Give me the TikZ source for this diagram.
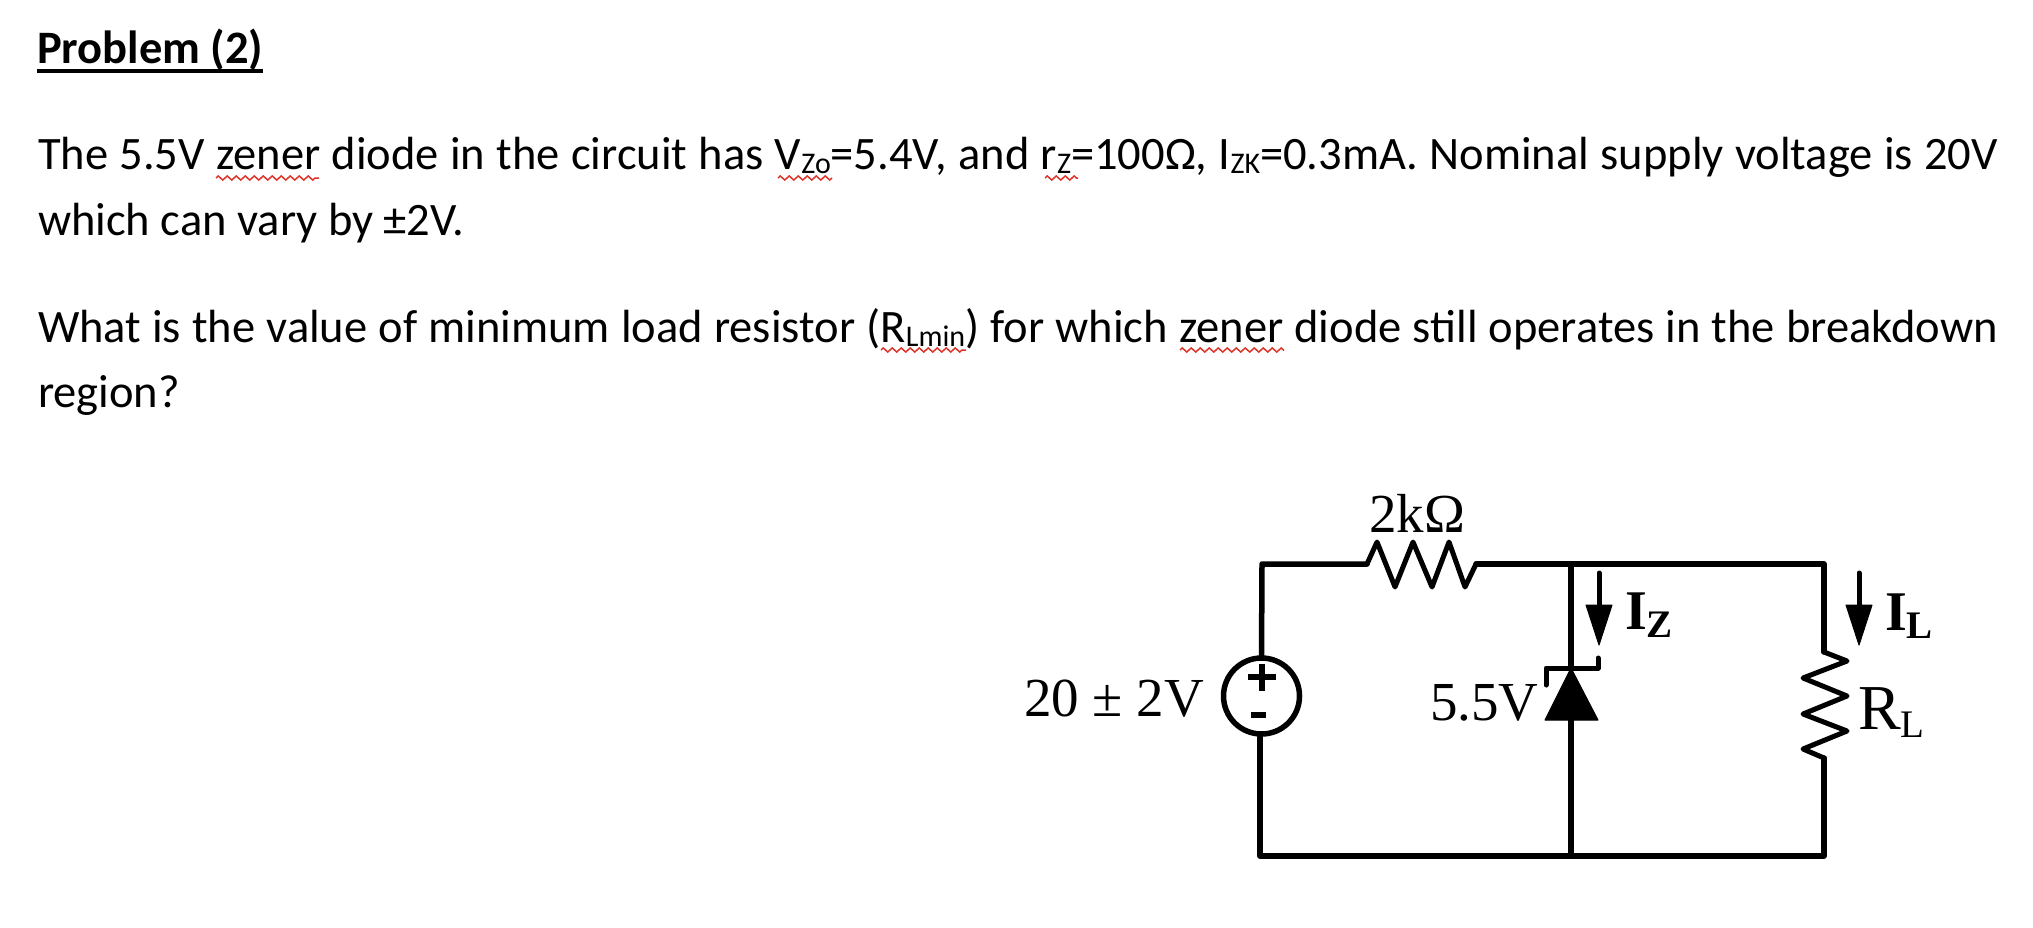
\documentclass[tikz,border=0pt]{standalone}
\usepackage{fontspec}
\usetikzlibrary{decorations.pathmorphing}
\setmainfont{Carlito}
\newfontfamily\serifcirc{Liberation Serif}
\definecolor{spell}{RGB}{222,50,40}
\newcommand{\bodysize}{\fontsize{46.5}{50}\selectfont}
\newcommand{\sbs}[1]{\raisebox{-0.1em}{\fontsize{30}{32}\selectfont #1}}
\newcommand{\csub}[1]{\raisebox{-8.5pt}{\fontsize{39}{42}\selectfont #1}}
\tikzset{
  x=1pt,y=-1pt,
  bodyline/.style={anchor=base west,inner sep=0pt,outer sep=0pt,font=\bodysize},
  wire/.style={line width=5.5pt,line cap=round,line join=round,black},
  thinpart/.style={line width=5pt,line cap=round,line join=round,black},
  squig/.style={draw=spell,line width=1.5pt,decorate,decoration={zigzag,amplitude=2pt,segment length=9pt}},
  clabel/.style={inner sep=0pt,outer sep=0pt,anchor=base west,font=\serifcirc\fontsize{55}{60}\selectfont},
  cbold/.style={inner sep=0pt,outer sep=0pt,anchor=base west,font=\serifcirc\bfseries\fontsize{56}{60}\selectfont},
  headfill/.style={fill=black,draw=black,line width=1pt,line join=round},
  solidmark/.style={inner sep=0pt,outer sep=0pt,fill=black},
}
\begin{document}
\begin{tikzpicture}
\useasboundingbox (0,0) rectangle (2033,927);
\fill[white] (0,0) rectangle (2033,927);
% text
\node[bodyline,font=\bfseries\bodysize] (title) at (37,63) {Problem (2)};
\coordinate (ula) at (37,71); \coordinate (ulb) at (263,71);
\draw[line width=3.2pt] (ula) -- (ulb);
\node[bodyline] (l1) at (38,169) {\makebox[1960pt][s]{The 5.5V zener diode in the circuit has V\sbs{Zo}=5.4V, and r\sbs{Z}=100Ω, I\sbs{ZK}=0.3mA. Nominal supply voltage is 20V}};
\node[bodyline] (l2) at (38,235) {which can vary by ±2V.};
\node[bodyline] (l3) at (38,342) {\makebox[1960pt][s]{What is the value of minimum load resistor (R\sbs{Lmin}) for which zener diode still operates in the breakdown}};
\node[bodyline] (l4) at (38,407) {region?};
\foreach \n/\a/\b/\y in {s1/216/319/178,s2/778/832/178,s3/1045/1078/178,s4/881/966/350,s5/1180/1284/350}{
  \coordinate (\n a) at (\a,\y); \coordinate (\n b) at (\b,\y);
  \draw[squig] (\n a) -- (\n b);
}
% circuit nodes
\coordinate (tl) at (1262,564);
\coordinate (tm) at (1571,564);
\coordinate (tr) at (1824,564);
\coordinate (bl) at (1260,856);
\coordinate (bm) at (1571,856);
\coordinate (br) at (1824,856);
\node[circle,draw=black,line width=5.5pt,minimum size=76pt,inner sep=0pt] (src) at (1261.5,696) {};
\coordinate (srcb) at (1260,737);
\coordinate (r1a) at (1367,564); \coordinate (r1b) at (1476,564);
\coordinate (r2a) at (1824,652); \coordinate (r2b) at (1824,758);
\coordinate (zk) at (1571,668); \coordinate (za) at (1571,720);
% wires
\draw[wire] (src.north) -- (tl) -- (r1a);
\draw[thinpart] (r1a) -- (1377,542) -- (1395,587) -- (1413,542) -- (1432,587) -- (1449,542) -- (1465,587) -- (r1b);
\draw[wire] (r1b) -- (tm) -- (tr) -- (r2a);
\draw[thinpart] (r2a) -- (1847,661) -- (1803,678) -- (1847,696) -- (1803,714) -- (1847,731) -- (1803,749) -- (r2b);
\draw[wire] (r2b) -- (br) -- (bl) -- (srcb);
\draw[wire] (tm) -- (zk);
\draw[wire] (za) -- (bm);
% zener
\fill[headfill] (zk) -- (1598,720) -- (1545,720) -- cycle;
\draw[thinpart] (1546,685) -- (1546,668) -- (1598,668) -- (1598,658);
% polarity
\node[solidmark,minimum width=28pt,minimum height=6pt] (plush) at (1262,677) {};
\node[solidmark,minimum width=6pt,minimum height=27pt] (plusv) at (1262,677) {};
\node[solidmark,minimum width=15pt,minimum height=6pt] (minus) at (1258,715) {};
% current arrows
\coordinate (iz1) at (1599,573); \coordinate (iz2) at (1599,605);
\coordinate (il1) at (1859,573); \coordinate (il2) at (1859,605);
\draw[thinpart] (iz1) -- (iz2);
\fill[headfill] (1586,605) -- (1612,605) -- (1599,645) -- cycle;
\draw[thinpart] (il1) -- (il2);
\fill[headfill] (1846,605) -- (1872,605) -- (1859,645) -- cycle;
% labels
\node[clabel] (rv) at (1369,532) {2kΩ};
\node[clabel] (vs) at (1024,716) {20 ± 2V};
\node[clabel] (zv) at (1430,720) {5.5V};
\node[cbold] (iz) at (1625,629) {I\csub{Z}};
\node[cbold] (il) at (1885,630) {I\csub{L}};
\node[clabel,font=\serifcirc\fontsize{64}{66}\selectfont] (rl) at (1858,729) {R\csub{L}};
\end{tikzpicture}
\end{document}
